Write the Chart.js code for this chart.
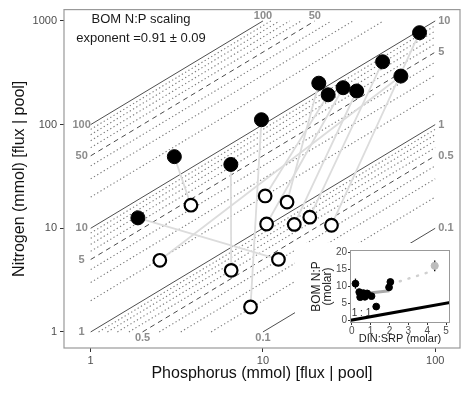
<!DOCTYPE html>
<html><head><meta charset="utf-8">
<script src="https://cdn.jsdelivr.net/npm/chart.js@4.4.0/dist/chart.umd.min.js"></script>
<style>
html,body{margin:0;padding:0;background:#fff;}
#wrap{position:relative;width:474px;height:399px;overflow:hidden;}
#main{position:absolute;left:0;top:0;}
#inset{position:absolute;left:295px;top:243px;}
</style></head><body>
<div id="wrap"><canvas id="main" width="474" height="399"></canvas><canvas id="inset" width="163" height="103"></canvas></div>
<script>
// ---------- data ----------
const X_TICKS = [1, 10, 100];
const Y_TICKS = [1, 10, 100, 1000];
// flux (filled) and paired pool (open) values, mmol
const FLUX_P = [1.88, 3.06, 6.51, 9.8, 21.1, 23.9, 29.2, 35.0, 49.5, 63.2, 81.1];
const FLUX_N = [12.6, 49.1, 41.3, 111.5, 251, 194, 227, 211, 404, 294, 771];
const POOL_P = [12.3, 3.82, 6.54, 8.47, 13.8, 10.3, 10.5, 15.2, 18.7, 2.52, 25.0];
const POOL_N = [5.01, 16.7, 3.93, 1.74, 17.9, 20.5, 11.0, 10.9, 12.8, 4.91, 10.7];
// N:P reference ratio lines
const RATIOS_HIGH = [100, 90, 80, 70, 60, 50, 40, 30, 20];
const RATIOS_MID = [10, 9, 8, 7, 6, 5, 4, 3, 2];
const RATIOS_LOW = [1, 0.9, 0.8, 0.7, 0.6, 0.5, 0.4, 0.3, 0.2, 0.1];
const RATIOS_SOLID = [100, 10, 1, 0.1];
const RATIOS_DASHED = [50, 5, 0.5];
const RATIO_P_RANGE = [1, 100];
const RATIO_N_RANGE = [1, 1000];
const ANNOT_1 = 'BOM N:P scaling';
const ANNOT_2 = 'exponent =0.91 \u00b1 0.09';
// inset
const IN_X_TICKS = [0, 1, 2, 3, 4, 5];
const IN_Y_TICKS = [0, 5, 10, 15, 20];
const IN_X = [0.2, 0.4, 0.45, 0.62, 0.7, 0.82, 1.05, 1.3, 1.98, 2.05];
const IN_Y = [10.8, 8.3, 6.8, 8.0, 6.9, 7.9, 7.1, 4.0, 9.7, 11.3];
const IN_ERR = [1.5, 0.8, 0.5, 0.8, 0.5, 0.6, 0.8, 0.5, 0.8, 0.8];
const OUT_X = [4.4];
const OUT_Y = [16.1];
const OUT_ERR = [1.6];
const FIT_X = [0.25, 2.0];
const FIT_Y = [7.6, 8.7];
const EXT_X = [2.1, 4.2];
const EXT_Y = [10.7, 14.4];
const ONE_X = [-0.2, 5.4];

// ---------- helpers ----------
Chart.defaults.font.family = '"Liberation Sans", Arial, Helvetica, sans-serif';
Chart.defaults.animation = false;
const pts = (xs, ys) => xs.map((v, i) => ({x: v, y: ys[i]}));
function ratioExtent(r) {
  const p0 = Math.max(RATIO_P_RANGE[0], RATIO_N_RANGE[0] / r);
  const p1 = Math.min(RATIO_P_RANGE[1], RATIO_N_RANGE[1] / r);
  return [{x: p0, y: p0 * r}, {x: p1, y: p1 * r}];
}
const ALL_RATIOS = [...RATIOS_HIGH, ...RATIOS_MID, ...RATIOS_LOW];
const ratioSets = ALL_RATIOS.map(r => {
  const solid = RATIOS_SOLID.includes(r), dashed = RATIOS_DASHED.includes(r);
  return {
    data: ratioExtent(r), showLine: true, pointRadius: 0, order: 3,
    borderColor: solid ? '#3a3a3a' : (dashed ? '#4a4a4a' : '#7a7a7a'),
    borderWidth: solid ? 0.9 : (dashed ? 1 : 1.1),
    borderDash: solid ? [] : (dashed ? [5, 4] : [1.3, 2.5])
  };
});
const connSets = FLUX_P.map((p, i) => ({
  data: [{x: p, y: FLUX_N[i]}, {x: POOL_P[i], y: POOL_N[i]}],
  showLine: true, pointRadius: 0, order: 2, borderColor: '#dcdcdc', borderWidth: 1.8
}));

const mainPlugin = {
  id: 'mainAnnot',
  afterDatasetsDraw(chart) {
    const {ctx, chartArea: ca, scales: {x, y}} = chart;
    ctx.save();
    // ratio labels
    ctx.font = 'bold 11px "Liberation Sans", Arial, sans-serif';
    ctx.fillStyle = '#8c8c8c';
    ctx.textBaseline = 'middle';
    [...RATIOS_SOLID, ...RATIOS_DASHED].forEach(r => {
      const [s, e] = ratioExtent(r);
      const xs = x.getPixelForValue(s.x), ys = y.getPixelForValue(s.y);
      ctx.textAlign = 'center';
      if (s.x === RATIO_P_RANGE[0]) ctx.fillText(String(r), xs - 9, ys);
      else ctx.fillText(String(r), xs, ys + 6);
      const xe = x.getPixelForValue(e.x), ye = y.getPixelForValue(e.y);
      if (e.x < RATIO_P_RANGE[1]) { ctx.textAlign = 'center'; ctx.fillText(String(r), xe, ye - 5); }
      else { ctx.textAlign = 'left'; ctx.fillText(String(r), xe + 3, Math.max(ye, ca.top + 7)); }
    });
    // panel border
    ctx.strokeStyle = '#999';
    ctx.lineWidth = 1.2;
    ctx.strokeRect(ca.left, ca.top, ca.right - ca.left, ca.bottom - ca.top);
    // annotation text
    ctx.fillStyle = '#1a1a1a';
    ctx.font = '13px "Liberation Sans", Arial, sans-serif';
    ctx.textAlign = 'center';
    ctx.fillText(ANNOT_1, ca.left + 77, ca.top + 10);
    ctx.fillText(ANNOT_2, ca.left + 77, ca.top + 28.5);
    ctx.restore();
  }
};

new Chart(document.getElementById('main'), {
  type: 'scatter',
  data: {
    datasets: [
      {data: pts(FLUX_P, FLUX_N), pointRadius: 7, pointBackgroundColor: '#000', pointBorderColor: '#000', pointBorderWidth: 1, order: 0},
      {data: pts(POOL_P, POOL_N), pointRadius: 6.3, pointBackgroundColor: '#fff', pointBorderColor: '#000', pointBorderWidth: 2.2, order: 1},
      ...connSets,
      ...ratioSets
    ]
  },
  options: {
    responsive: false, devicePixelRatio: 1, animation: false,
    layout: {padding: {top: 1, right: 14, left: 0, bottom: 0}},
    plugins: {legend: {display: false}, tooltip: {enabled: false}},
    scales: {
      x: {
        type: 'logarithmic', min: 0.714, max: 139.3,
        afterBuildTicks: s => { s.ticks = X_TICKS.map(v => ({value: v})); },
        afterFit: s => { s.height = 51; },
        ticks: {callback: v => String(v), color: '#4d4d4d', font: {size: 11}, padding: 2, maxRotation: 0, autoSkip: false},
        grid: {drawOnChartArea: false, tickLength: 4, color: '#333'},
        border: {display: false},
        title: {display: true, text: 'Phosphorus (mmol) [flux | pool]', color: '#111', font: {size: 16}, padding: {top: 0, bottom: 16}}
      },
      y: {
        type: 'logarithmic', min: 0.719, max: 1287,
        afterBuildTicks: s => { s.ticks = Y_TICKS.map(v => ({value: v})); },
        afterFit: s => { s.width = 64; },
        ticks: {callback: v => String(v), color: '#4d4d4d', font: {size: 11}, padding: 3, autoSkip: false},
        grid: {drawOnChartArea: false, tickLength: 4, color: '#333'},
        border: {display: false},
        title: {display: true, text: 'Nitrogen (mmol) [flux | pool]', color: '#111', font: {size: 16}, padding: {top: 10, bottom: 0}}
      }
    }
  },
  plugins: [mainPlugin]
});

// ---------- inset ----------
const insetPlugin = {
  id: 'insetAnnot',
  beforeDraw(chart) {
    const ctx = chart.ctx;
    ctx.save(); ctx.fillStyle = '#fff'; ctx.fillRect(0, 0, chart.width, chart.height); ctx.restore();
  },
  beforeDatasetsDraw(chart) {
    const {ctx, scales: {x, y}} = chart;
    ctx.save();
    ctx.strokeStyle = '#000'; ctx.lineWidth = 1.3;
    const bar = (xv, yv, e) => {
      const px = x.getPixelForValue(xv);
      ctx.beginPath(); ctx.moveTo(px, y.getPixelForValue(yv - e)); ctx.lineTo(px, y.getPixelForValue(yv + e)); ctx.stroke();
    };
    IN_X.forEach((v, i) => bar(v, IN_Y[i], IN_ERR[i]));
    OUT_X.forEach((v, i) => bar(v, OUT_Y[i], OUT_ERR[i]));
    ctx.restore();
  },
  afterDatasetsDraw(chart) {
    const {ctx, chartArea: ca, scales: {x, y}} = chart;
    ctx.save();
    ctx.strokeStyle = '#999'; ctx.lineWidth = 1;
    ctx.strokeRect(ca.left + 0.5, ca.top + 0.5, ca.right - ca.left - 1, ca.bottom - ca.top - 1);
    ctx.fillStyle = '#333'; ctx.font = '10px "Liberation Sans", Arial, sans-serif';
    ctx.textAlign = 'center'; ctx.textBaseline = 'middle';
    ctx.fillText('1 : 1', x.getPixelForValue(0.52), y.getPixelForValue(1.9));
    ctx.restore();
  }
};

new Chart(document.getElementById('inset'), {
  type: 'scatter',
  data: {
    datasets: [
      {data: pts(IN_X, IN_Y), pointRadius: 3.4, pointBackgroundColor: '#000', pointBorderColor: '#000', order: 0},
      {data: pts(OUT_X, OUT_Y), pointRadius: 3.6, pointBackgroundColor: '#bdbdbd', pointBorderColor: '#bdbdbd', order: 0},
      {data: pts(FIT_X, FIT_Y), showLine: true, pointRadius: 0, borderColor: '#a9a9a9', borderWidth: 3, order: 1},
      {data: pts(EXT_X, EXT_Y), showLine: true, pointRadius: 0, borderColor: '#d0d0d0', borderWidth: 2.5, borderDash: [1, 8], borderCapStyle: 'round', order: 1},
      {data: pts(ONE_X, ONE_X), showLine: true, pointRadius: 0, borderColor: '#000', borderWidth: 3, order: 2}
    ]
  },
  options: {
    responsive: false, devicePixelRatio: 1, animation: false,
    layout: {padding: {top: 5, right: 8, left: 0, bottom: 0}},
    plugins: {legend: {display: false}, tooltip: {enabled: false}},
    scales: {
      x: {
        type: 'linear', min: -0.09, max: 5.21,
        afterBuildTicks: s => { s.ticks = IN_X_TICKS.map(v => ({value: v})); },
        afterFit: s => { s.height = 23; },
        ticks: {callback: v => String(v), color: '#4d4d4d', font: {size: 10}, padding: 0, maxRotation: 0, autoSkip: false},
        grid: {drawOnChartArea: false, tickLength: 2, color: '#333'},
        border: {display: false},
        title: {display: true, text: 'DIN:SRP (molar)', color: '#1a1a1a', font: {size: 11}, padding: {top: 0, bottom: 0.5}}
      },
      y: {
        type: 'linear', min: -0.87, max: 20.78,
        afterBuildTicks: s => { s.ticks = IN_Y_TICKS.map(v => ({value: v})); },
        afterFit: s => { s.width = 55; },
        ticks: {callback: v => String(v), color: '#4d4d4d', font: {size: 10}, padding: 1, autoSkip: false},
        grid: {drawOnChartArea: false, tickLength: 2, color: '#333'},
        border: {display: false},
        title: {display: true, text: ['BOM N:P', '(molar)'], color: '#1a1a1a', font: {size: 12, lineHeight: 0.9}, padding: {top: 16, bottom: 0}}
      }
    }
  },
  plugins: [insetPlugin]
});
</script>
</body></html>
